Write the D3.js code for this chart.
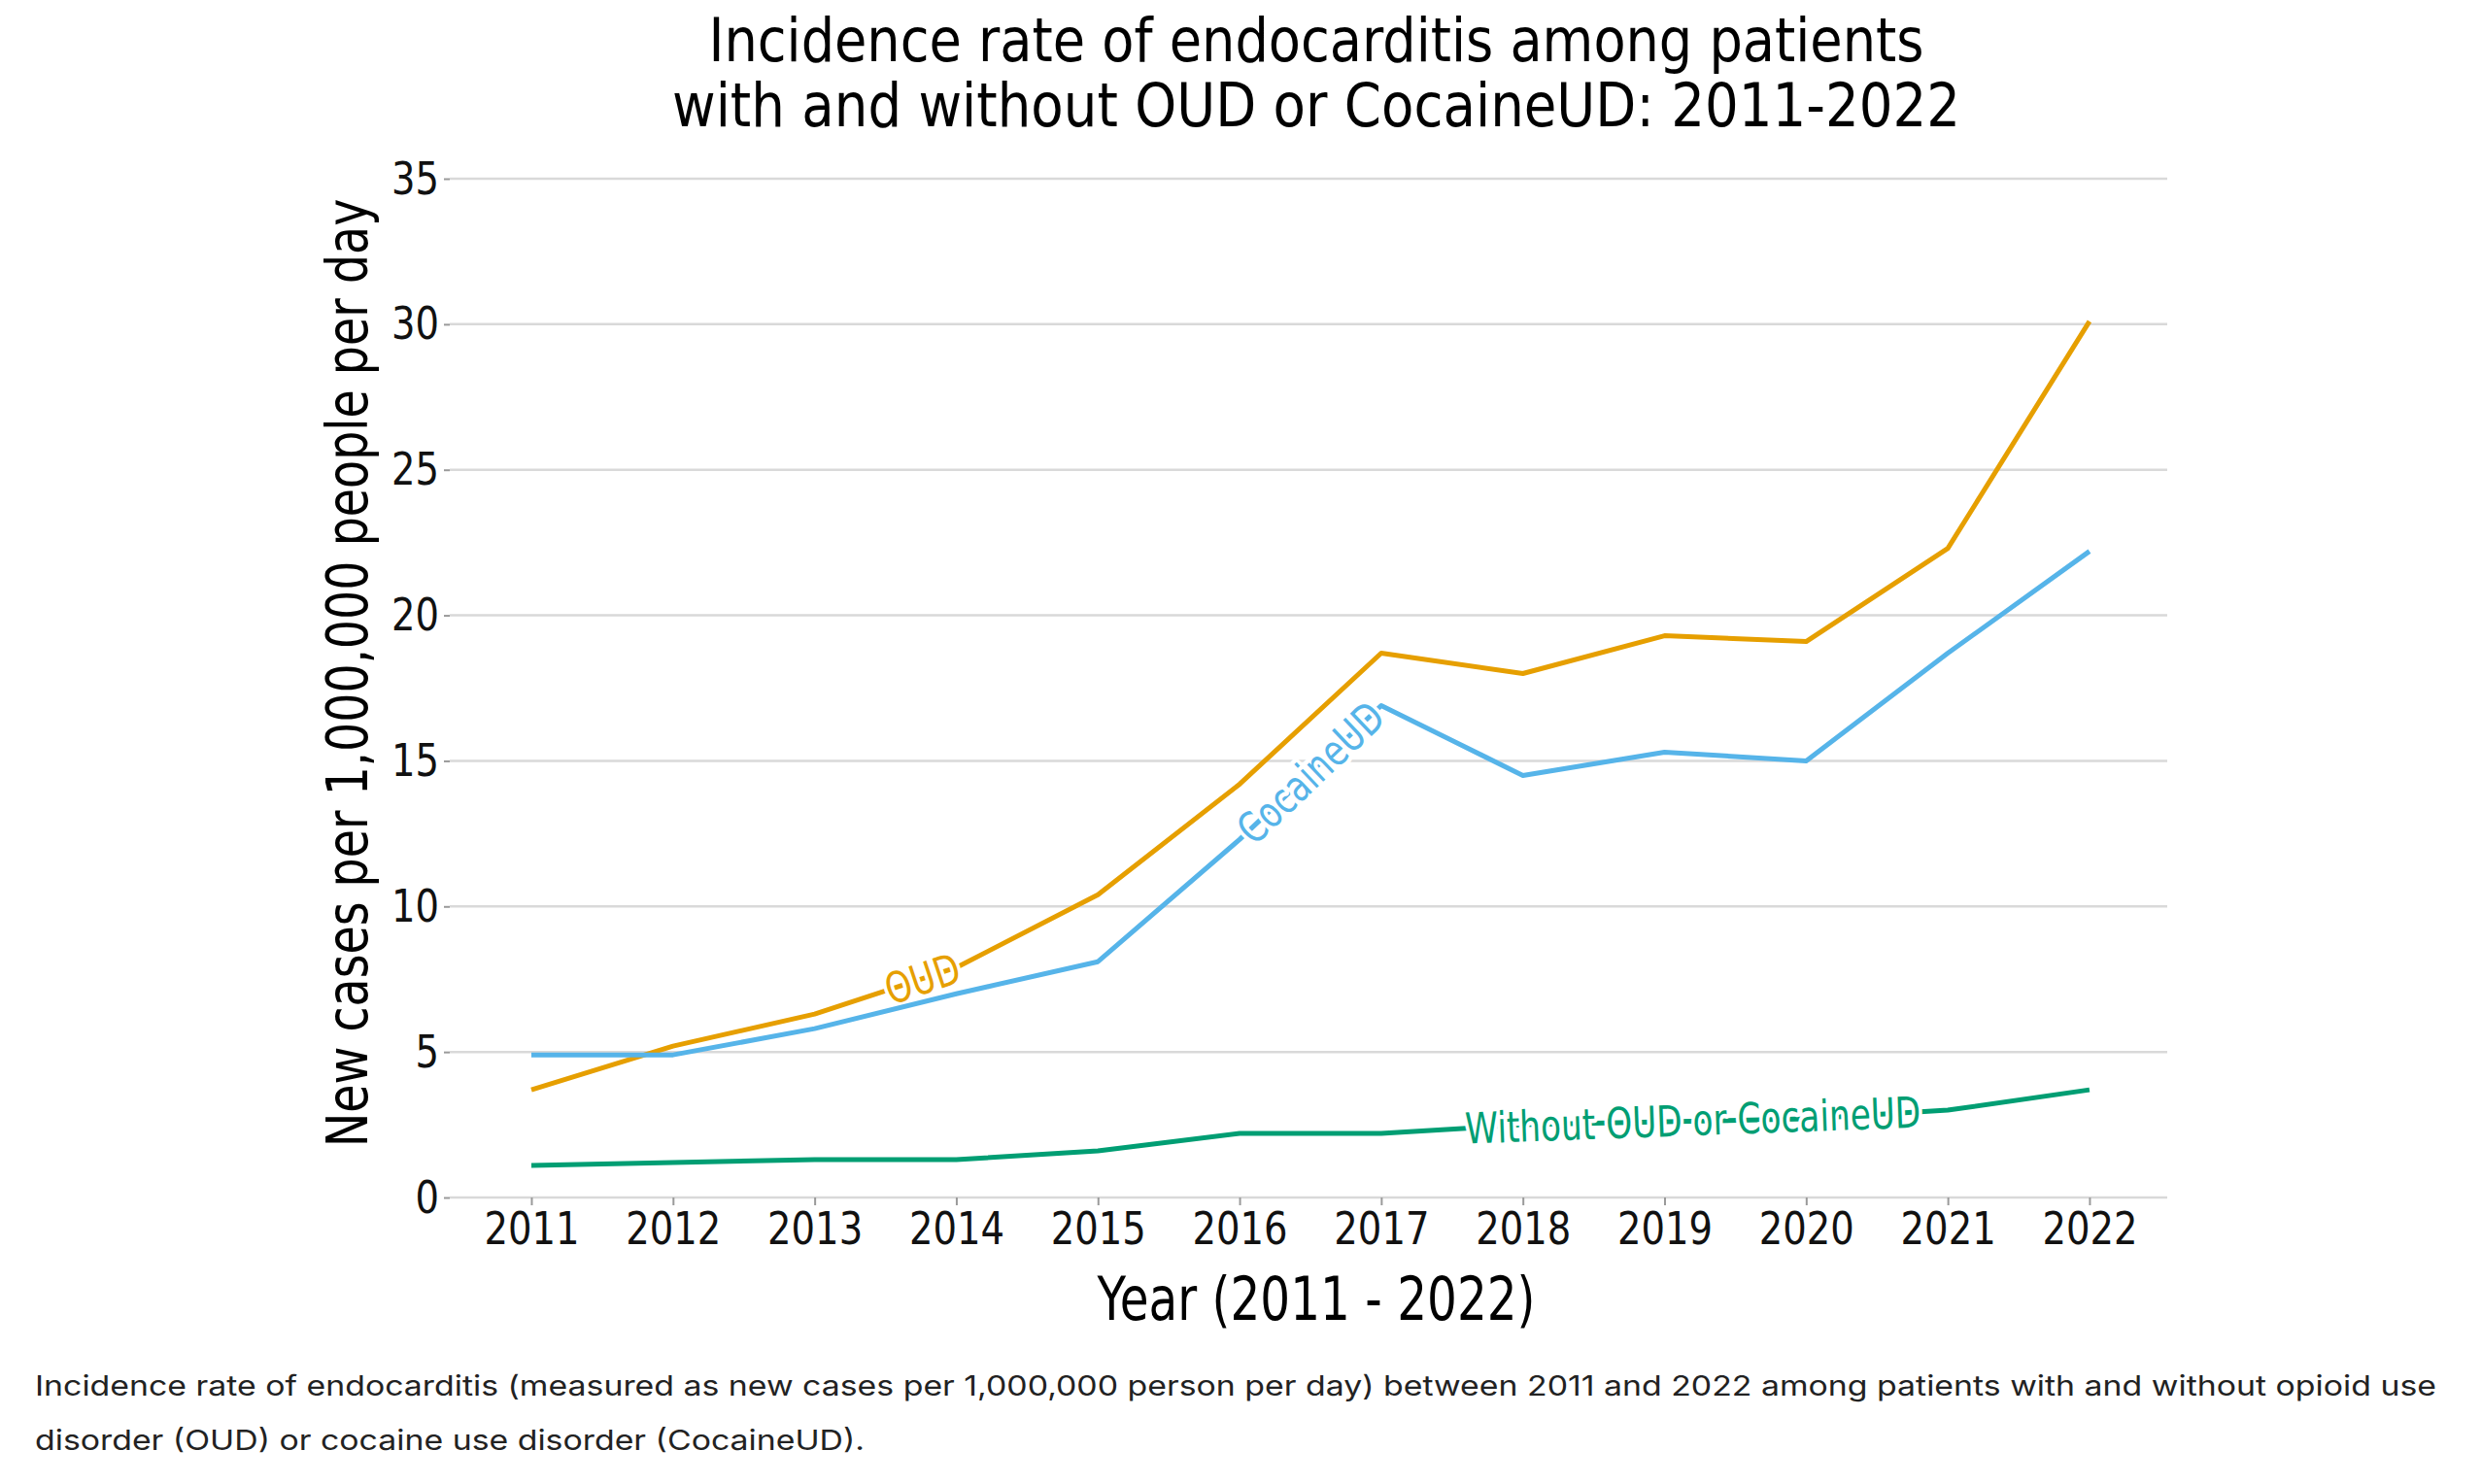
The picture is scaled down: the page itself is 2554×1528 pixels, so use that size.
<!DOCTYPE html>
<html>
<head>
<meta charset="utf-8">
<script src="https://cdn.jsdelivr.net/npm/d3@7"></script>
<style>
  body { margin: 0; background: #fff; }
  svg { display: block; }
</style>
</head>
<body>
<div id="chart"></div>
<script>
// data
const years = [2011, 2012, 2013, 2014, 2015, 2016, 2017, 2018, 2019, 2020, 2021, 2022];
const oudValues = [3.7, 5.2, 6.3, 7.9, 10.4, 14.2, 18.7, 18.0, 19.3, 19.1, 22.3, 30.1];
const cocaineValues = [4.9, 4.9, 5.8, 7.0, 8.1, 12.3, 16.9, 14.5, 15.3, 15.0, 18.7, 22.2];
const withoutValues = [1.1, 1.2, 1.3, 1.3, 1.6, 2.2, 2.2, 2.5, 2.6, 2.7, 3.0, 3.7];
const seriesNames = ['OUD', 'CocaineUD', 'Without OUD or CocaineUD'];
const yTicks = [0, 5, 10, 15, 20, 25, 30, 35];

const titleLines = ['Incidence rate of endocarditis among patients',
                    'with and without OUD or CocaineUD: 2011-2022'];
const xTitle = 'Year (2011 - 2022)';
const yTitle = 'New cases per 1,000,000 people per day';
const captionLines = [
  'Incidence rate of endocarditis (measured as new cases per 1,000,000 person per day) between 2011 and 2022 among patients with and without opioid use',
  'disorder (OUD) or cocaine use disorder (CocaineUD).'
];

const W = 2554, H = 1528;
const plot = { left: 463, right: 2231, top: 184, bottom: 1233 };
const FONT = '"DejaVu Sans", Verdana, sans-serif';

// squeeze DejaVu a bit so it runs as narrow as the Tahoma-like original
function squeeze(sel, k) {
  sel.each(function () {
    const w = this.getComputedTextLength();
    d3.select(this).attr('textLength', w * k).attr('lengthAdjust', 'spacingAndGlyphs');
  });
}
function fitTo(sel, len) {
  sel.attr('textLength', len).attr('lengthAdjust', 'spacingAndGlyphs');
}

const svg = d3.select('#chart').append('svg').attr('width', W).attr('height', H);

const x = d3.scaleLinear().domain([2010.424, 2022.549]).range([plot.left, plot.right]);
const y = d3.scaleLinear().domain([0, 35]).range([plot.bottom, plot.top]);

// gridlines
svg.append('g').attr('class', 'grid')
  .selectAll('line').data(yTicks).enter().append('line')
  .attr('x1', plot.left).attr('x2', plot.right)
  .attr('y1', d => y(d)).attr('y2', d => y(d))
  .style('stroke', '#d9d9d9').style('stroke-width', 2.5);

// axes
const xAxis = d3.axisBottom(x).tickValues(years).tickFormat(d3.format('d'))
  .tickSizeInner(8).tickSizeOuter(0).tickPadding(7);
const gx = svg.append('g').attr('class', 'x axis')
  .attr('transform', `translate(0,${plot.bottom})`).call(xAxis);

const yAxis = d3.axisLeft(y).tickValues(yTicks)
  .tickSizeInner(6).tickSizeOuter(0).tickPadding(5);
const gy = svg.append('g').attr('class', 'y axis')
  .attr('transform', `translate(${plot.left},0)`).call(yAxis);

[gx, gy].forEach(g => {
  g.select('.domain').remove();
  g.selectAll('.tick line').style('stroke', '#9a9a9a').style('stroke-width', 2);
  g.selectAll('.tick text').style('font-family', FONT).style('font-size', '47px').style('fill', '#111');
});
squeeze(gx.selectAll('.tick text'), 0.82);
squeeze(gy.selectAll('.tick text'), 0.82);

// series
const series = [
  { name: seriesNames[0], color: '#E69F00', values: oudValues, at: 2013.76 },
  { name: seriesNames[1], color: '#56B4E9', values: cocaineValues, at: 2016.5 },
  { name: seriesNames[2], color: '#009E73', values: withoutValues, at: 2019.2 }
];

const lineGen = d3.line().x((d, i) => x(years[i])).y(d => y(d));

// y (px) on a series polyline at pixel x
function yAtPx(values, px) {
  const pts = years.map((yr, i) => [x(yr), y(values[i])]);
  if (px <= pts[0][0]) return pts[0][1];
  for (let i = 1; i < pts.length; i++) {
    if (px <= pts[i][0]) {
      const t = (px - pts[i - 1][0]) / (pts[i][0] - pts[i - 1][0]);
      return pts[i - 1][1] + t * (pts[i][1] - pts[i - 1][1]);
    }
  }
  return pts[pts.length - 1][1];
}

const chartGroup = svg.append('g').attr('class', 'line-chart');

series.forEach(s => {
  chartGroup.append('path')
    .attr('class', `line-series ${s.name.toLowerCase().replace(/ /g, '-')}`)
    .attr('d', lineGen(s.values))
    .style('fill', 'none').style('stroke', s.color)
    .style('stroke-width', 5).style('stroke-linejoin', 'round');

  // label sitting on the line, halo knocks the line out behind it
  const label = chartGroup.append('text')
    .text(s.name)
    .attr('text-anchor', 'middle')
    .attr('dy', '0.36em')
    .style('font-family', FONT).style('font-size', '44px')
    .style('fill', s.color)
    .style('stroke', '#fff').style('stroke-width', 9)
    .style('stroke-linejoin', 'round').style('paint-order', 'stroke');
  const len = label.node().getComputedTextLength() * 0.78;
  label.attr('textLength', len).attr('lengthAdjust', 'spacingAndGlyphs');

  const cx = x(s.at);
  let ang = 0;
  for (let k = 0; k < 3; k++) {
    const hx = (len / 2) * Math.cos(ang);
    const y1 = yAtPx(s.values, cx - hx), y2 = yAtPx(s.values, cx + hx);
    ang = Math.atan2(y2 - y1, 2 * hx);
  }
  const hx = (len / 2) * Math.cos(ang);
  const cy = (yAtPx(s.values, cx - hx) + yAtPx(s.values, cx + hx)) / 2;
  label.attr('transform', `translate(${cx},${cy}) rotate(${ang * 180 / Math.PI})`);
});

// title
const title = svg.append('g').attr('class', 'title')
  .selectAll('text').data(titleLines).enter().append('text')
  .attr('x', 1355).attr('y', (d, i) => 63 + i * 67)
  .attr('text-anchor', 'middle')
  .style('font-family', FONT).style('font-size', '62px').style('fill', '#000')
  .text(d => d);
title.each(function (d, i) { fitTo(d3.select(this), [1251, 1326][i]); });

// axis titles
const xt = svg.append('text').attr('class', 'x-title')
  .attr('x', 1355).attr('y', 1359).attr('text-anchor', 'middle')
  .style('font-family', FONT).style('font-size', '62px').style('fill', '#000')
  .text(xTitle);
fitTo(xt, 451);

// y title: narrowed with a scale on the group instead of textLength
const ytG = svg.append('g').attr('class', 'y-title')
  .attr('transform', 'translate(378,693) rotate(-90)');
const yt = ytG.append('text')
  .attr('text-anchor', 'middle')
  .style('font-family', FONT).style('font-size', '59px').style('fill', '#000')
  .text(yTitle);
const ytK = 977 / yt.node().getComputedTextLength();
ytG.attr('transform', `translate(378,693) rotate(-90) scale(${ytK},1)`);

// caption under the figure, both lines stretched by the same amount
const cap = svg.append('g').attr('class', 'caption')
  .selectAll('text').data(captionLines).enter().append('text')
  .attr('x', 36).attr('y', (d, i) => 1437 + i * 56)
  .style('font-family', 'Inter, "Liberation Sans", sans-serif')
  .style('font-size', '29px').style('fill', '#222')
  .text(d => d);
const capK = 2472 / cap.nodes()[0].getComputedTextLength();
squeeze(cap, capK);
</script>
</body>
</html>
